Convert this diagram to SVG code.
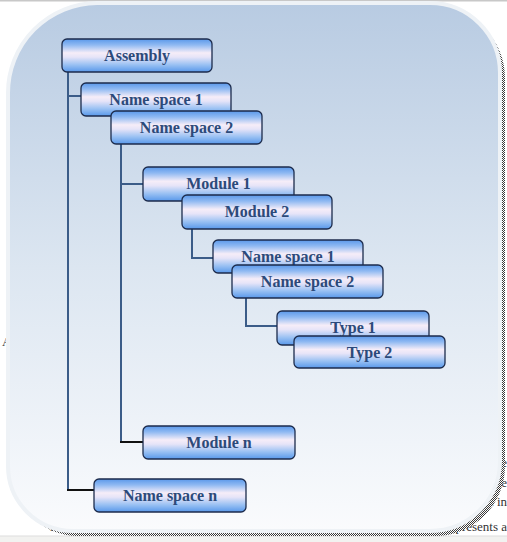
<svg xmlns="http://www.w3.org/2000/svg" width="507" height="542" viewBox="0 0 507 542">
  <defs>
    <linearGradient id="bg" x1="0" y1="0" x2="0" y2="1">
      <stop offset="0" stop-color="#B8CBE2"/>
      <stop offset="0.5" stop-color="#DCE6F1"/>
      <stop offset="1" stop-color="#FAFBFD"/>
    </linearGradient>
    <linearGradient id="node" x1="0" y1="0" x2="0" y2="1">
      <stop offset="0" stop-color="#5A98EA"/>
      <stop offset="0.18" stop-color="#8FB9F2"/>
      <stop offset="0.42" stop-color="#F6EDF8"/>
      <stop offset="0.55" stop-color="#E6E4F8"/>
      <stop offset="0.78" stop-color="#9AC1F3"/>
      <stop offset="1" stop-color="#5898EA"/>
    </linearGradient>
    <pattern id="dither" width="2" height="2" patternUnits="userSpaceOnUse">
      <rect width="2" height="2" fill="#FFFFFF"/>
      <rect width="1" height="1" fill="#3A3A3A"/>
      <rect x="1" y="1" width="1" height="1" fill="#3A3A3A"/>
    </pattern>
  </defs>
  <style>
    .n rect { fill: url(#node); stroke: #1C2B4C; stroke-width: 1.3; }
    .n text { font-family: "Liberation Serif", "Times New Roman", serif; font-weight: bold; font-size: 16px; fill: #2C4A7A; text-anchor: middle; }
    .c { stroke: #3B5C88; stroke-width: 2; fill: none; }
    .k { stroke: #111111; stroke-width: 2; fill: none; }
    .pg { font-family: "Liberation Serif", "Times New Roman", serif; font-size: 13px; fill: #333333; }
  </style>
  <rect width="507" height="542" fill="#FFFFFF"/>
  <rect x="0" y="0" width="507" height="1.5" fill="#C8C8C8"/>
  <rect x="0" y="536" width="507" height="6" fill="#F2F2F0"/>
  <line x1="0" y1="536" x2="507" y2="536" stroke="#DDDDDD" stroke-width="1"/>
  <!-- page text fragments behind the card -->
  <text class="pg" x="2" y="346">A</text>
  <text class="pg" x="507" y="467" text-anchor="end">the</text>
  <text class="pg" x="507" y="487" text-anchor="end">be</text>
  <text class="pg" x="507" y="506" text-anchor="end">sed in</text>
  <text class="pg" x="50" y="531">are</text>
  <text class="pg" x="507" y="531" text-anchor="end">represents a</text>
  <!-- shadow -->
  <path d="M 100 8 L 435 8 A 70 70 0 0 1 505 78 L 505 466 A 70 70 0 0 1 435 536 L 78 536 A 65 65 0 0 1 13 471 L 13 98 A 90 90 0 0 1 100 8 Z" fill="url(#dither)"/>
  <!-- card -->
  <path d="M 97 3 L 430 3 A 70 70 0 0 1 500 73 L 500 461 A 70 70 0 0 1 430 531 L 73 531 A 65 65 0 0 1 8 466 L 8 93 A 90 90 0 0 1 97 3 Z" fill="url(#bg)" stroke="#EEF2F6" stroke-width="4"/>
  <g id="connectors">
    <path class="c" d="M 68 72 L 68 490"/>
    <path class="c" d="M 68 96 L 81 96"/>
    <path class="k" d="M 67 490 L 95 490"/>
    <path class="c" d="M 121 144 L 121 442"/>
    <path class="c" d="M 121 184 L 144 184"/>
    <path class="k" d="M 120 442 L 144 442"/>
    <path class="c" d="M 192 229 L 192 258 L 214 258"/>
    <path class="c" d="M 246 298 L 246 326 L 278 326"/>
  </g>
  <g id="assembly" class="n"><rect x="62" y="39" width="150" height="33" rx="5"/><text x="137" y="61">Assembly</text></g>
  <g id="ns1" class="n"><rect x="81" y="83" width="150" height="33" rx="5"/><text x="156" y="105">Name space 1</text></g>
  <g id="ns2" class="n"><rect x="111" y="111" width="151" height="33" rx="5"/><text x="186.5" y="133">Name space 2</text></g>
  <g id="module1" class="n"><rect x="143" y="167" width="151" height="34" rx="5"/><text x="218.5" y="189">Module 1</text></g>
  <g id="module2" class="n"><rect x="182" y="195" width="150" height="34" rx="5"/><text x="257" y="217">Module 2</text></g>
  <g id="inner-ns1" class="n"><rect x="213" y="240" width="150" height="33" rx="5"/><text x="288" y="262">Name space 1</text></g>
  <g id="inner-ns2" class="n"><rect x="232" y="265" width="151" height="33" rx="5"/><text x="307.5" y="287">Name space 2</text></g>
  <g id="type1" class="n"><rect x="277" y="311" width="152" height="34" rx="5"/><text x="353" y="333">Type 1</text></g>
  <g id="type2" class="n"><rect x="294" y="336" width="151" height="32" rx="5"/><text x="369.5" y="358">Type 2</text></g>
  <g id="modulen" class="n"><rect x="143" y="426" width="152" height="33" rx="5"/><text x="219" y="448">Module n</text></g>
  <g id="nsn" class="n"><rect x="94" y="479" width="152" height="33" rx="5"/><text x="170" y="501">Name space n</text></g>
</svg>
